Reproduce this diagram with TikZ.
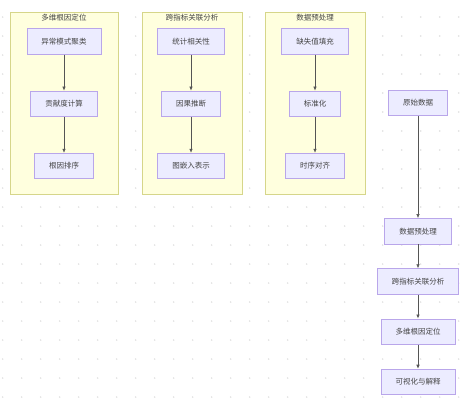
\documentclass[tikz,border=0pt]{standalone}
\usepackage{fontspec}
\setmainfont{Noto Sans CJK SC}
\usetikzlibrary{positioning,arrows.meta}
\tikzstyle{canvas} = [x = 1pt, y = -1pt]
\definecolor{nodeFill}{HTML}{ECECFF}
\definecolor{nodeBorder}{HTML}{B9A6EA}
\definecolor{clusterFill}{HTML}{FFFFDE}
\definecolor{clusterBorder}{HTML}{D6D68A}
\definecolor{edgeColor}{HTML}{555555}
\definecolor{textColor}{HTML}{444444}
\definecolor{dotColor}{HTML}{DDDDDD}
\tikzstyle{stepNode} = [draw=nodeBorder, fill=nodeFill, line width=.7pt, minimum height=25.5pt, inner xsep=14.5pt, font=\fontsize{7.5}{9}\selectfont, text=textColor]
\tikzstyle{clusterStyle} = [draw=clusterBorder, fill=clusterFill, line width=.7pt]
\tikzstyle{clusterTitle} = [font=\fontsize{7.5}{9}\selectfont, text=textColor, inner sep=0pt]
\tikzstyle{flowArrow} = [draw=edgeColor, line width=.6pt, -{Latex[length=4pt, width=3.5pt]}]
\newcommand{\clusterBox}[6]{
  \filldraw [clusterStyle] (#1, #2) rectangle (#3, #4);
  \node [clusterTitle] (#5) at ({(#1 + #3) / 2}, #2 + 6) {#6};
}
\newcommand{\dotGrid}{
  \foreach \gx in {0,...,24} {
    \foreach \gy in {0,...,20} {
      \fill [dotColor] (2.7 + 19 * \gx, 17 + 19 * \gy) circle (.8);
    }
  }
}
\begin{document}
\begin{tikzpicture}[canvas]
    \useasboundingbox (0,0) rectangle (474,402);
    \fill [white] (0,0) rectangle (474,402);
    \dotGrid
    % subgraphs
    \clusterBox{10}{12}{118}{194}{rootTitle}{多维根因定位}
    \clusterBox{142}{12}{242}{194}{corrTitle}{跨指标关联分析}
    \clusterBox{265}{12}{365}{194}{prepTitle}{数据预处理}
    % 多维根因定位
    \node [stepNode] (cluster) at (64, 41.5) {异常模式聚类};
    \node [stepNode, below=36pt of cluster] (contrib) {贡献度计算};
    \node [stepNode, below=36pt of contrib] (rank) {根因排序};
    % 跨指标关联分析
    \node [stepNode] (stat) at (191, 41.5) {统计相关性};
    \node [stepNode, below=36pt of stat] (causal) {因果推断};
    \node [stepNode, below=36pt of causal] (embed) {图嵌入表示};
    % 数据预处理
    \node [stepNode] (fill) at (315, 41.5) {缺失值填充};
    \node [stepNode, below=36pt of fill] (norm) {标准化};
    \node [stepNode, below=36pt of norm] (align) {时序对齐};
    % main flow
    \node [stepNode] (raw) at (418, 103) {原始数据};
    \node [stepNode, below=102pt of raw] (prep) {数据预处理};
    \node [stepNode, below=24pt of prep] (corr) {跨指标关联分析};
    \node [stepNode, below=24pt of corr] (root) {多维根因定位};
    \node [stepNode, below=24pt of root] (vis) {可视化与解释};
    \draw [flowArrow] (cluster) -- (contrib);
    \draw [flowArrow] (contrib) -- (rank);
    \draw [flowArrow] (stat) -- (causal);
    \draw [flowArrow] (causal) -- (embed);
    \draw [flowArrow] (fill) -- (norm);
    \draw [flowArrow] (norm) -- (align);
    \draw [flowArrow] (raw) -- (prep);
    \draw [flowArrow] (prep) -- (corr);
    \draw [flowArrow] (corr) -- (root);
    \draw [flowArrow] (root) -- (vis);
\end{tikzpicture}
\end{document}
